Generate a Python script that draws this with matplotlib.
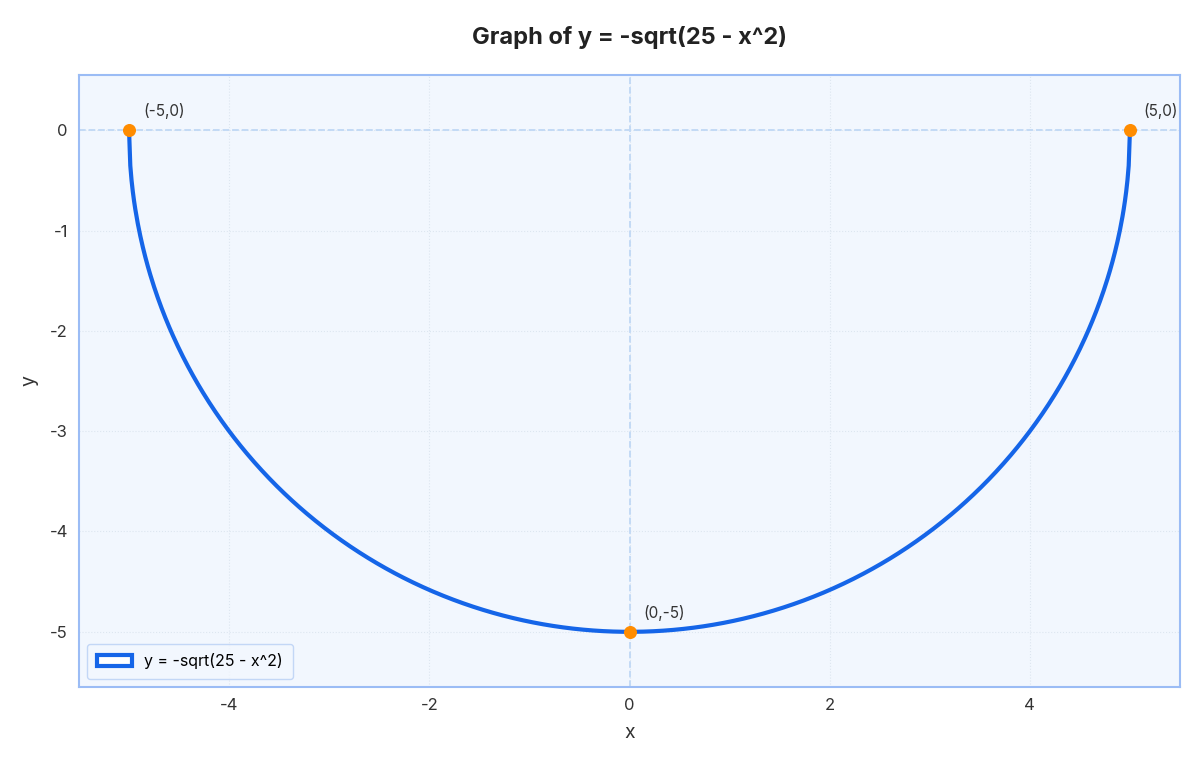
import numpy as np
import matplotlib
matplotlib.use('Agg')
from matplotlib import pyplot as plt
from matplotlib.patches import Patch

plt.rcParams['font.family'] = ['Inter', 'DejaVu Sans']
plt.rcParams['axes.unicode_minus'] = False

radius = 5
x_vals = np.linspace(-radius, radius, 801)
y_vals = -np.sqrt(radius ** 2 - x_vals ** 2)

point_x = [-5, 0, 5]
point_y = [0, -5, 0]
point_labels = ['(-5,0)', '(0,-5)', '(5,0)']

blue = '#1565e8'
orange = '#ff8c00'

fig = plt.figure(figsize=(12, 7.64), dpi=100)
ax = fig.add_axes([79 / 1200, 1 - 687 / 764, 1101 / 1200, 612 / 764])
ax.set_facecolor('#f2f7fe')

ax.plot(x_vals, y_vals, color=blue, linewidth=3, zorder=3)
ax.scatter(point_x, point_y, color=orange, s=70, zorder=4)
for px, py, lab in zip(point_x, point_y, point_labels):
    ax.annotate(lab, (px, py), xytext=(10, 10), textcoords='offset points',
                fontsize=11, color='#333333')

ax.axhline(0, color='#c0d8f5', linestyle='--', linewidth=1.3, zorder=1)
ax.axvline(0, color='#c0d8f5', linestyle='--', linewidth=1.3, zorder=1)
ax.grid(True, linestyle=':', color='#dde6f0', linewidth=0.8)
ax.set_axisbelow(True)

ax.set_xlim(-5.5, 5.5)
ax.set_ylim(-5.55, 0.55)
ax.set_xticks([-4, -2, 0, 2, 4])
ax.set_yticks([0, -1, -2, -3, -4, -5])
ax.tick_params(length=0, labelsize=12, colors='#333333', pad=8)
for s in ax.spines.values():
    s.set_color('#9bbcf5')
    s.set_linewidth(1.5)

ax.set_xlabel('x', fontsize=14, color='#333333', labelpad=8)
ax.set_ylabel('y', fontsize=14, color='#333333', labelpad=8)
ax.set_title('Graph of y = -sqrt(25 - x^2)', fontsize=17, fontweight='bold',
             color='#222222', pad=22)

handle = Patch(facecolor='white', edgecolor=blue, linewidth=3,
               label='y = -sqrt(25 - x^2)')
leg = ax.legend(handles=[handle], loc='lower left', fontsize=11.5,
                frameon=True, fancybox=True, handlelength=2.2, borderpad=0.6)
leg.get_frame().set_edgecolor('#b8cff5')
leg.get_frame().set_facecolor('#f2f7fe')

fig.savefig('out.png', dpi=100)
